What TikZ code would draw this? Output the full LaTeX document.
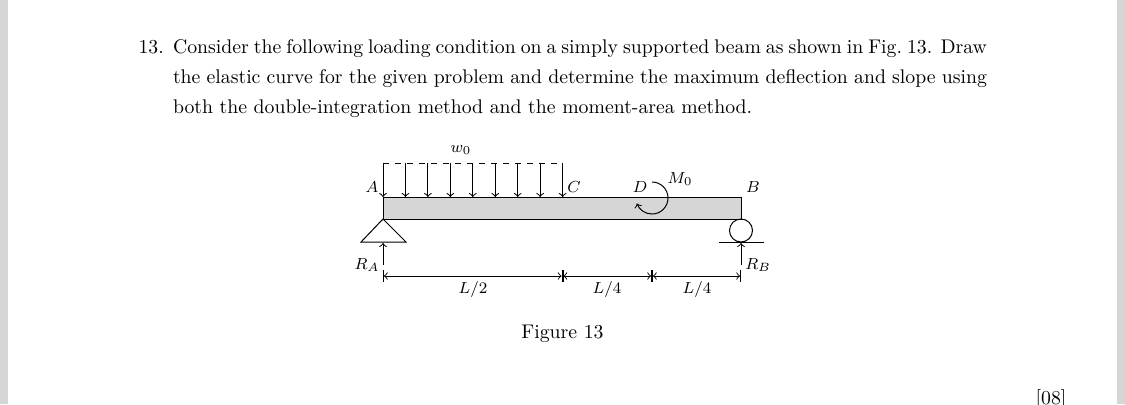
\documentclass[tikz,border=0pt]{standalone}
\usepackage{amsmath}

\definecolor{beamgray}{gray}{0.84}
\definecolor{pagegray}{gray}{0.84}
\tikzset{
  body/.style={inner sep=0pt, anchor=base west, text width=407pt, align=justify, font=\fontsize{9.88}{15}\selectfont},
  lbl/.style={inner sep=0pt, font=\fontsize{8}{9.6}\selectfont},
  dim/.style={|<->|, line width=0.45pt}
}

\begin{document}
\begin{tikzpicture}[x=0.5pt,y=-0.5pt,line width=0.5pt]
  \clip (0,0) rectangle (1125,404);
  \fill[pagegray] (0,0) rectangle (8,404);
  \fill[pagegray] (1117,0) rectangle (1125,404);

  \node[inner sep=0pt, anchor=base west, font=\fontsize{9.88}{15}\selectfont] (num) at (138,53) {13.};
  \node[body] (text) at (172.5,53) {Consider the following loading condition on a simply supported beam as shown in Fig.~13. Draw\linebreak
    the elastic curve for the given problem and determine the maximum deflection and slope using\linebreak
    both the double-integration method and the moment-area method.};

  \coordinate (A) at (383,197);
  \coordinate (Ab) at (383,219);
  \coordinate (B) at (741,197);
  \coordinate (Bb) at (741,219);
  \draw[fill=beamgray] (A) -- (B) -- (Bb) -- (Ab) -- cycle;

  % distributed load
  \foreach \i in {0,...,8} {
    \coordinate (t\i) at ({383+22.45*\i},163);
    \coordinate (p\i) at ({383+22.45*\i},197);
    \draw[->] (t\i) -- (p\i);
  }
  \draw[dashed, line width=0.3pt] (t0) -- (t8);

  % moment
  \coordinate (m0) at (652,182);
  \draw[->] (m0) arc[start angle=-90, end angle=160, radius=16, y radius=16];

  % supports
  \coordinate (s1) at (361,242);
  \coordinate (s2) at (406,242);
  \draw (Ab) -- (s1) -- (s2) -- cycle;
  \node[circle, draw, minimum size=11.5pt, inner sep=0pt] (roller) at (741,230.5) {};
  \coordinate (g1) at (719,242);
  \coordinate (g2) at (764,242);
  \draw (g1) -- (g2);

  % reactions
  \coordinate (ra1) at (383,265);
  \coordinate (ra2) at (383,243);
  \coordinate (rb1) at (741,265);
  \coordinate (rb2) at (741,243);
  \draw[->] (ra1) -- (ra2);
  \draw[->] (rb1) -- (rb2);

  % dimensions
  \coordinate (d0) at (383,276);
  \coordinate (d1) at (562.5,276);
  \coordinate (d2) at (652,276);
  \coordinate (d3) at (741,276);
  \draw[dim] (d0) -- (d1);
  \draw[dim] (d1) -- (d2);
  \draw[dim] (d2) -- (d3);

  \node[lbl] (wo) at (461,150) {$w_0$};
  \node[lbl] (lA) at (372,187) {$A$};
  \node[lbl] (lC) at (574,187) {$C$};
  \node[lbl] (lD) at (640,187) {$D$};
  \node[lbl] (lM) at (680,179) {$M_0$};
  \node[lbl] (lB) at (753,187) {$B$};
  \node[lbl] (RA) at (367,265) {$R_A$};
  \node[lbl] (RB) at (758,265) {$R_B$};
  \node[lbl] (L1) at (473,289) {$L/2$};
  \node[lbl] (L2) at (607,289) {$L/4$};
  \node[lbl] (L3) at (697,289) {$L/4$};

  \node[inner sep=0pt, anchor=base, font=\fontsize{9.88}{12}\selectfont] (fig) at (562.5,338) {Figure 13};
  \node[inner sep=0pt, anchor=base, font=\fontsize{9.88}{12}\selectfont] (marks) at (1051,404) {[08]};
\end{tikzpicture}
\end{document}
